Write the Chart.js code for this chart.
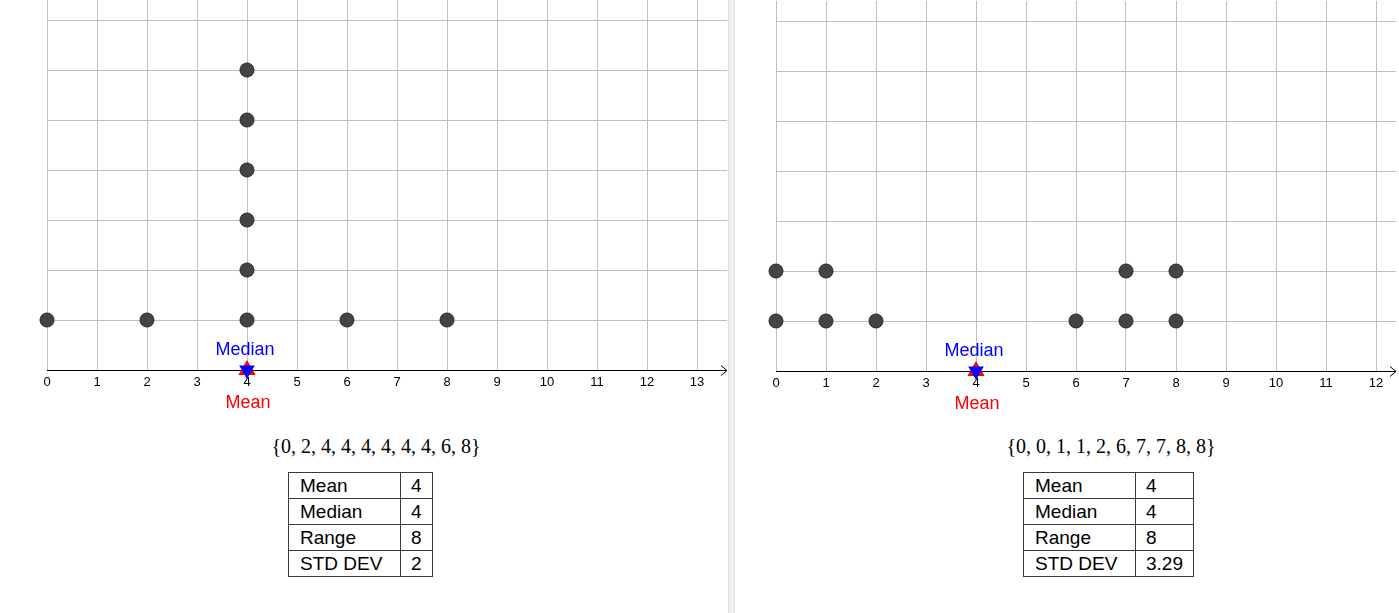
<!DOCTYPE html>
<html>
<head>
<meta charset="utf-8">
<script src="https://cdn.jsdelivr.net/npm/chart.js@4.4.0/dist/chart.umd.min.js"></script>
<style>
  html, body { margin: 0; padding: 0; background: #fff; }
  body { width: 1399px; height: 613px; position: relative; overflow: hidden; font-family: "Liberation Sans", Arial, sans-serif; }
  .panel { position: absolute; top: 0; height: 613px; }
  #leftPanel { left: 0; width: 728px; }
  #rightPanel { left: 735px; width: 664px; }
  #divider { position: absolute; left: 728px; top: 0; width: 7px; height: 613px; background: #efefef;
             border-left: 1px solid #e0e0e0; border-right: 1px solid #e0e0e0; box-sizing: border-box; }
  canvas { position: absolute; left: 0; top: 0; }
  .setText { position: absolute; left: 176px; width: 400px; top: 434px; text-align: center;
             font-family: "Liberation Serif", "Times New Roman", serif; font-size: 20px; line-height: 24px; white-space: nowrap; }
  table.stats { position: absolute; left: 288px; top: 472px; border-collapse: collapse; font-size: 19px; }
  table.stats td { border: 1px solid #3a3a3a; height: 25px; line-height: 25px; padding: 0 10px 0 10px; white-space: nowrap; }
  table.stats td:first-child { width: 90px; padding-left: 11px; }
</style>
</head>
<body>
<div class="panel" id="leftPanel">
  <canvas id="leftChart" width="728" height="420"></canvas>
  <div class="setText" id="leftSet"></div>
  <table class="stats" id="leftTable"></table>
</div>
<div id="divider"></div>
<div class="panel" id="rightPanel">
  <canvas id="rightChart" width="664" height="420"></canvas>
  <div class="setText" id="rightSet"></div>
  <table class="stats" id="rightTable"></table>
</div>
<script>
// data sets shown on each dot plot
const leftValues = [0, 2, 4, 4, 4, 4, 4, 4, 6, 8];
const rightValues = [0, 0, 1, 1, 2, 6, 7, 7, 8, 8];

// summary table
const statNames = ['Mean', 'Median', 'Range', 'STD DEV'];
const leftStats = ['4', '4', '8', '2'];
const rightStats = ['4', '4', '8', '3.29'];

// axis ticks
const leftXTicks = [0, 1, 2, 3, 4, 5, 6, 7, 8, 9, 10, 11, 12, 13];
const rightXTicks = [0, 1, 2, 3, 4, 5, 6, 7, 8, 9, 10, 11, 12];
const yGridTicks = [0, 1, 2, 3, 4, 5, 6, 7];

// stack repeated values on top of each other
function stackDots(values) {
    const counts = {};
    return values.map(v => {
        counts[v] = (counts[v] || 0) + 1;
        return { x: v, y: counts[v] };
    });
}

const markerLabels = {
    id: 'markerLabels',
    afterDatasetsDraw(chart) {
        const ctx = chart.ctx;
        const area = chart.chartArea;
        const y0 = Math.round(chart.scales.y.getPixelForValue(0)) + 0.5;

        // arrow head at the end of the number line
        ctx.save();
        ctx.strokeStyle = '#000';
        ctx.lineWidth = 1;
        ctx.beginPath();
        ctx.moveTo(area.right - 6, y0 - 5);
        ctx.lineTo(area.right, y0);
        ctx.lineTo(area.right - 6, y0 + 5);
        ctx.stroke();

        ctx.font = '18px "Liberation Sans", Arial, sans-serif';
        ctx.textAlign = 'center';
        ctx.textBaseline = 'middle';
        const med = chart.getDatasetMeta(0).data[0];
        const mean = chart.getDatasetMeta(1).data[0];
        ctx.fillStyle = '#0000ff';
        ctx.fillText(chart.data.datasets[0].label, med.x - 2, med.y - 20);
        ctx.fillStyle = '#ff0000';
        ctx.fillText(chart.data.datasets[1].label, mean.x + 1, mean.y + 33);
        ctx.restore();
    }
};

function makeChart(id, values, stats, xTicks, xMax, pad) {
    const mean = Number(stats[0]);
    const median = Number(stats[1]);
    return new Chart(document.getElementById(id), {
        type: 'scatter',
        data: {
            datasets: [
                {
                    label: 'Median',
                    data: [{ x: median, y: 0 }],
                    pointStyle: 'triangle',
                    pointRotation: 180,
                    pointRadius: 9,
                    pointBackgroundColor: '#0000ff',
                    pointBorderColor: '#0000ff',
                    pointBorderWidth: 0,
                    clip: false,
                    order: 0
                },
                {
                    label: 'Mean',
                    data: [{ x: mean, y: 0 }],
                    pointStyle: 'triangle',
                    pointRadius: 10,
                    pointBackgroundColor: '#ff0000',
                    pointBorderColor: '#ff0000',
                    pointBorderWidth: 0,
                    clip: false,
                    order: 1
                },
                {
                    label: 'Values',
                    data: stackDots(values),
                    pointRadius: 7,
                    pointBackgroundColor: '#444444',
                    pointBorderColor: '#262626',
                    pointBorderWidth: 1,
                    clip: false,
                    order: 2
                }
            ]
        },
        options: {
            responsive: false,
            animation: false,
            devicePixelRatio: 1,
            layout: { padding: pad, autoPadding: false },
            plugins: {
                legend: { display: false },
                tooltip: { enabled: false }
            },
            scales: {
                x: {
                    type: 'linear',
                    min: 0,
                    max: xMax,
                    afterBuildTicks: s => { s.ticks = xTicks.map(v => ({ value: v })); },
                    grid: { color: '#c0c0c0', drawTicks: false },
                    border: { display: false },
                    ticks: {
                        color: '#000',
                        font: { size: 13, family: '"Liberation Sans", Arial, sans-serif' },
                        padding: 5,
                        maxRotation: 0,
                        autoSkip: false,
                        callback: v => String(v)
                    }
                },
                y: {
                    type: 'linear',
                    min: 0,
                    max: 7.4,
                    afterBuildTicks: s => { s.ticks = yGridTicks.map(v => ({ value: v })); },
                    grid: {
                        color: c => c.tick && c.tick.value === 0 ? '#000000' : '#c0c0c0',
                        drawTicks: false
                    },
                    border: { display: false },
                    ticks: { display: false }
                }
            }
        },
        plugins: [markerLabels]
    });
}

function fillTable(id, stats) {
    const table = document.getElementById(id);
    statNames.forEach((name, i) => {
        const row = table.insertRow();
        row.insertCell().textContent = name;
        row.insertCell().textContent = stats[i];
    });
}

makeChart('leftChart', leftValues, leftStats, leftXTicks, 13.6, { left: 47, right: 1, top: 0, bottom: 24.4 });
makeChart('rightChart', rightValues, rightStats, rightXTicks, 12.4, { left: 41, right: 3, top: 1, bottom: 23.4 });

document.getElementById('leftSet').textContent = '{' + leftValues.join(', ') + '}';
document.getElementById('rightSet').textContent = '{' + rightValues.join(', ') + '}';
fillTable('leftTable', leftStats);
fillTable('rightTable', rightStats);
</script>
</body>
</html>
